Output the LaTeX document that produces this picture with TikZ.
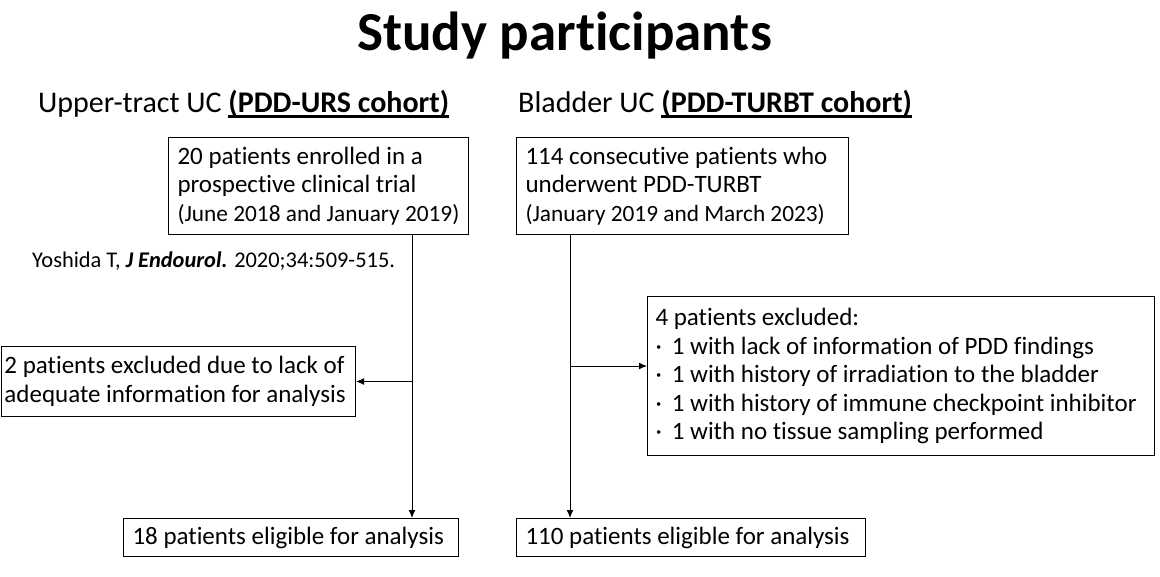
\documentclass[tikz,border=0pt]{standalone}
\usepackage{fontspec}
\setmainfont{Carlito}[Ligatures=NoCommon]
\usetikzlibrary{arrows.meta,positioning}
\newcommand{\undl}[1]{\setbox0\hbox{#1}\rlap{\vrule height -3pt depth 5.5pt width \wd0}\box0}

\begin{document}
\begin{tikzpicture}[x=1pt,y=-1pt,
    box/.style={draw,line width=1pt,anchor=north west,align=flush left,inner xsep=9pt,inner ysep=0pt,font=\fontsize{25}{28.5}\selectfont},
    arr/.style={line width=1pt,-{Latex[length=8pt,width=7pt]}},
    head/.style={anchor=base west,inner sep=0pt,font=\fontsize{30}{36}\selectfont}]
        \useasboundingbox (0,0) rectangle (1160,576);

        \node[anchor=base,inner sep=0pt,font=\bfseries\fontsize{55}{66}\selectfont] (title) at (564.5,50) {Study participants};
        \node[head] (headU) at (38,112) {Upper-tract UC \undl{\textbf{(PDD-URS cohort)}}};
        \node[head] (headB) at (518,112) {Bladder UC \undl{\textbf{(PDD-TURBT cohort)}}};

        \node[box,text width=282pt,minimum height=97pt] (enrU) at (168,137)
            {20 patients enrolled in a\\prospective clinical trial\\{\fontsize{23.3}{26}\selectfont (June 2018 and January 2019)}};
        \node[box,text width=314pt,minimum height=97pt] (enrB) at (516,137)
            {114 consecutive patients who\\underwent PDD-TURBT\\{\fontsize{23.3}{26}\selectfont (January 2019 and March 2023)}};

        \node[anchor=base west,inner sep=0pt,font=\fontsize{22.4}{26}\selectfont] (cite) at (32,267)
            {Yoshida T, \textbf{\textit{J Endourol.}} 2020;34:509-515.};

        \node[box,inner xsep=3pt,text width=348pt,minimum height=70pt] (exclU) at (1,346)
            {2 patients excluded due to lack of\\adequate information for analysis};
        \node[box,inner xsep=8pt,text width=491pt,minimum height=159pt] (exclB) at (647,296)
            {4 patients excluded:\\
             ·\hspace{0.4em}1 with lack of information of PDD findings\\
             ·\hspace{0.4em}1 with history of irradiation to the bladder\\
             ·\hspace{0.4em}1 with history of immune checkpoint inhibitor\\
             ·\hspace{0.4em}1 with no tissue sampling performed};

        \node[box,text width=317pt,minimum height=38pt] (eligU) at (123,518) {18 patients eligible for analysis};
        \node[box,text width=331pt,minimum height=38pt] (eligB) at (516,518) {110 patients eligible for analysis};

        \coordinate (spineU) at (412,0);
        \coordinate (spineB) at (570,0);
        \coordinate (forkB) at (570,366);

        \draw[arr] (enrU.south -| spineU) -- (eligU.north -| spineU);
        \draw[arr] (spineU |- exclU.east) -- (exclU.east);
        \draw[arr] (enrB.south -| spineB) -- (eligB.north -| spineB);
        \draw[arr] (forkB) -- (exclB.west |- forkB);
\end{tikzpicture}
\end{document}
